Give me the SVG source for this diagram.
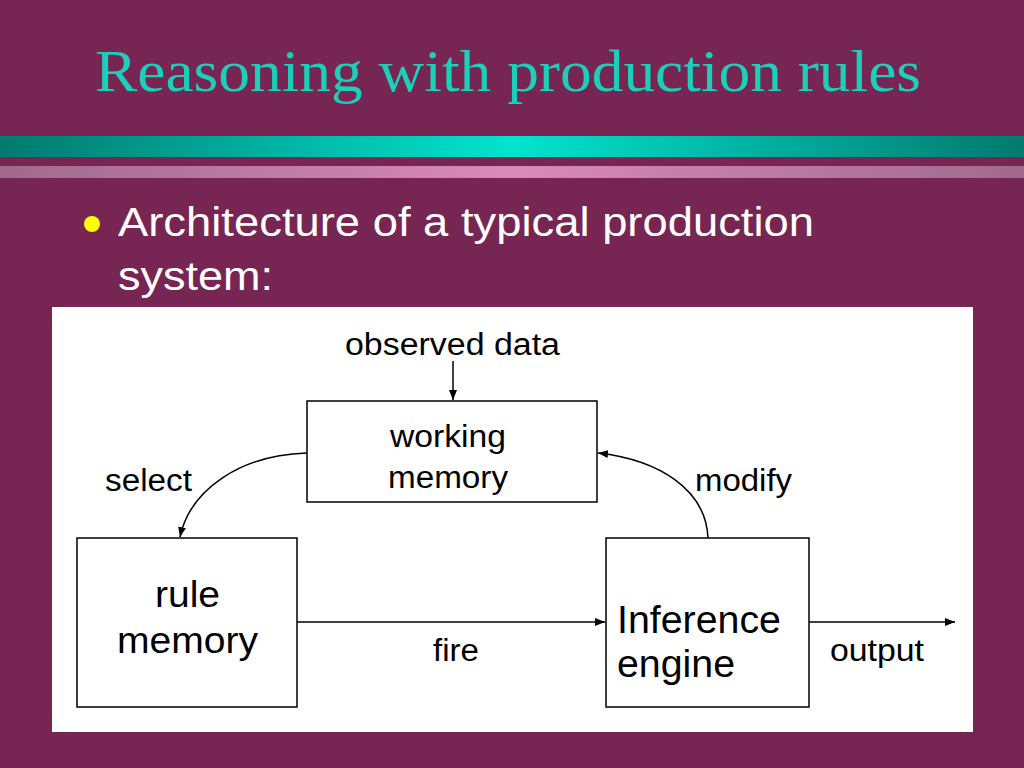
<svg xmlns="http://www.w3.org/2000/svg" width="1024" height="768" viewBox="0 0 1024 768">
<defs>
<linearGradient id="teal" x1="0" y1="0" x2="1" y2="0">
<stop offset="0" stop-color="#007a6e"/>
<stop offset="0.5" stop-color="#00e4cf"/>
<stop offset="1" stop-color="#007a6e"/>
</linearGradient>
<linearGradient id="pink" x1="0" y1="0" x2="1" y2="0">
<stop offset="0" stop-color="#a06a8c"/>
<stop offset="0.5" stop-color="#d98ab9"/>
<stop offset="1" stop-color="#a06a8c"/>
</linearGradient>
<marker id="ah" viewBox="0 0 10 10" refX="10" refY="5" markerWidth="10" markerHeight="10" markerUnits="userSpaceOnUse" orient="auto">
<path d="M0,1 L10,5 L0,9 Z" fill="#000"/>
</marker>
<style>
.box{fill:#fff;stroke:#000;stroke-width:1.5}
.edge{fill:none;stroke:#000;stroke-width:1.5;marker-end:url(#ah)}
.t{font-family:"Liberation Sans",Arial,sans-serif;fill:#000}
.w{font-family:"Liberation Sans",Arial,sans-serif;fill:#fff;font-size:40px}
</style>
</defs>
<rect width="1024" height="768" fill="#772653"/>
<text x="95" y="91" font-family="'Liberation Serif','DejaVu Serif',serif" font-size="59" fill="#1ccfb8" textLength="826" lengthAdjust="spacingAndGlyphs">Reasoning with production rules</text>
<rect x="0" y="136" width="1024" height="21" fill="url(#teal)"/>
<rect x="0" y="166" width="1024" height="12" fill="url(#pink)"/>
<circle cx="92" cy="224" r="8" fill="#ffff00"/>
<text class="w" x="118" y="236" textLength="696" lengthAdjust="spacingAndGlyphs">Architecture of a typical production</text>
<text class="w" x="118" y="290" textLength="155" lengthAdjust="spacingAndGlyphs">system:</text>
<rect x="52" y="307" width="921" height="425" fill="#ffffff"/>
<g id="connectors">
<path class="edge" d="M453,361 L453,400"/>
<path class="edge" d="M307,453 C240,455 190,490 180,537"/>
<path class="edge" d="M708,538 C706,490 660,460 598,453"/>
<path class="edge" d="M297,622 L605,622"/>
<path class="edge" d="M809,622 L955,622"/>
</g>
<g id="working-memory">
<rect class="box" x="307" y="401" width="290" height="101"/>
<text class="t" x="390" y="447" font-size="31" textLength="116" lengthAdjust="spacingAndGlyphs">working</text>
<text class="t" x="388" y="488" font-size="31" textLength="120" lengthAdjust="spacingAndGlyphs">memory</text>
</g>
<g id="rule-memory">
<rect class="box" x="77" y="538" width="220" height="169"/>
<text class="t" x="155" y="607" font-size="37" textLength="65" lengthAdjust="spacingAndGlyphs">rule</text>
<text class="t" x="117" y="653" font-size="37" textLength="141" lengthAdjust="spacingAndGlyphs">memory</text>
</g>
<g id="inference-engine">
<rect class="box" x="606" y="538" width="203" height="169"/>
<text class="t" x="617" y="633" font-size="39" textLength="164" lengthAdjust="spacingAndGlyphs">Inference</text>
<text class="t" x="617" y="677" font-size="39" textLength="118" lengthAdjust="spacingAndGlyphs">engine</text>
</g>
<g id="labels">
<text class="t" x="345" y="355" font-size="31" textLength="215" lengthAdjust="spacingAndGlyphs">observed data</text>
<text class="t" x="105" y="491" font-size="31" textLength="87" lengthAdjust="spacingAndGlyphs">select</text>
<text class="t" x="695" y="491" font-size="31" textLength="97" lengthAdjust="spacingAndGlyphs">modify</text>
<text class="t" x="433" y="661" font-size="31" textLength="46" lengthAdjust="spacingAndGlyphs">fire</text>
<text class="t" x="830" y="661" font-size="31" textLength="94" lengthAdjust="spacingAndGlyphs">output</text>
</g>
</svg>
